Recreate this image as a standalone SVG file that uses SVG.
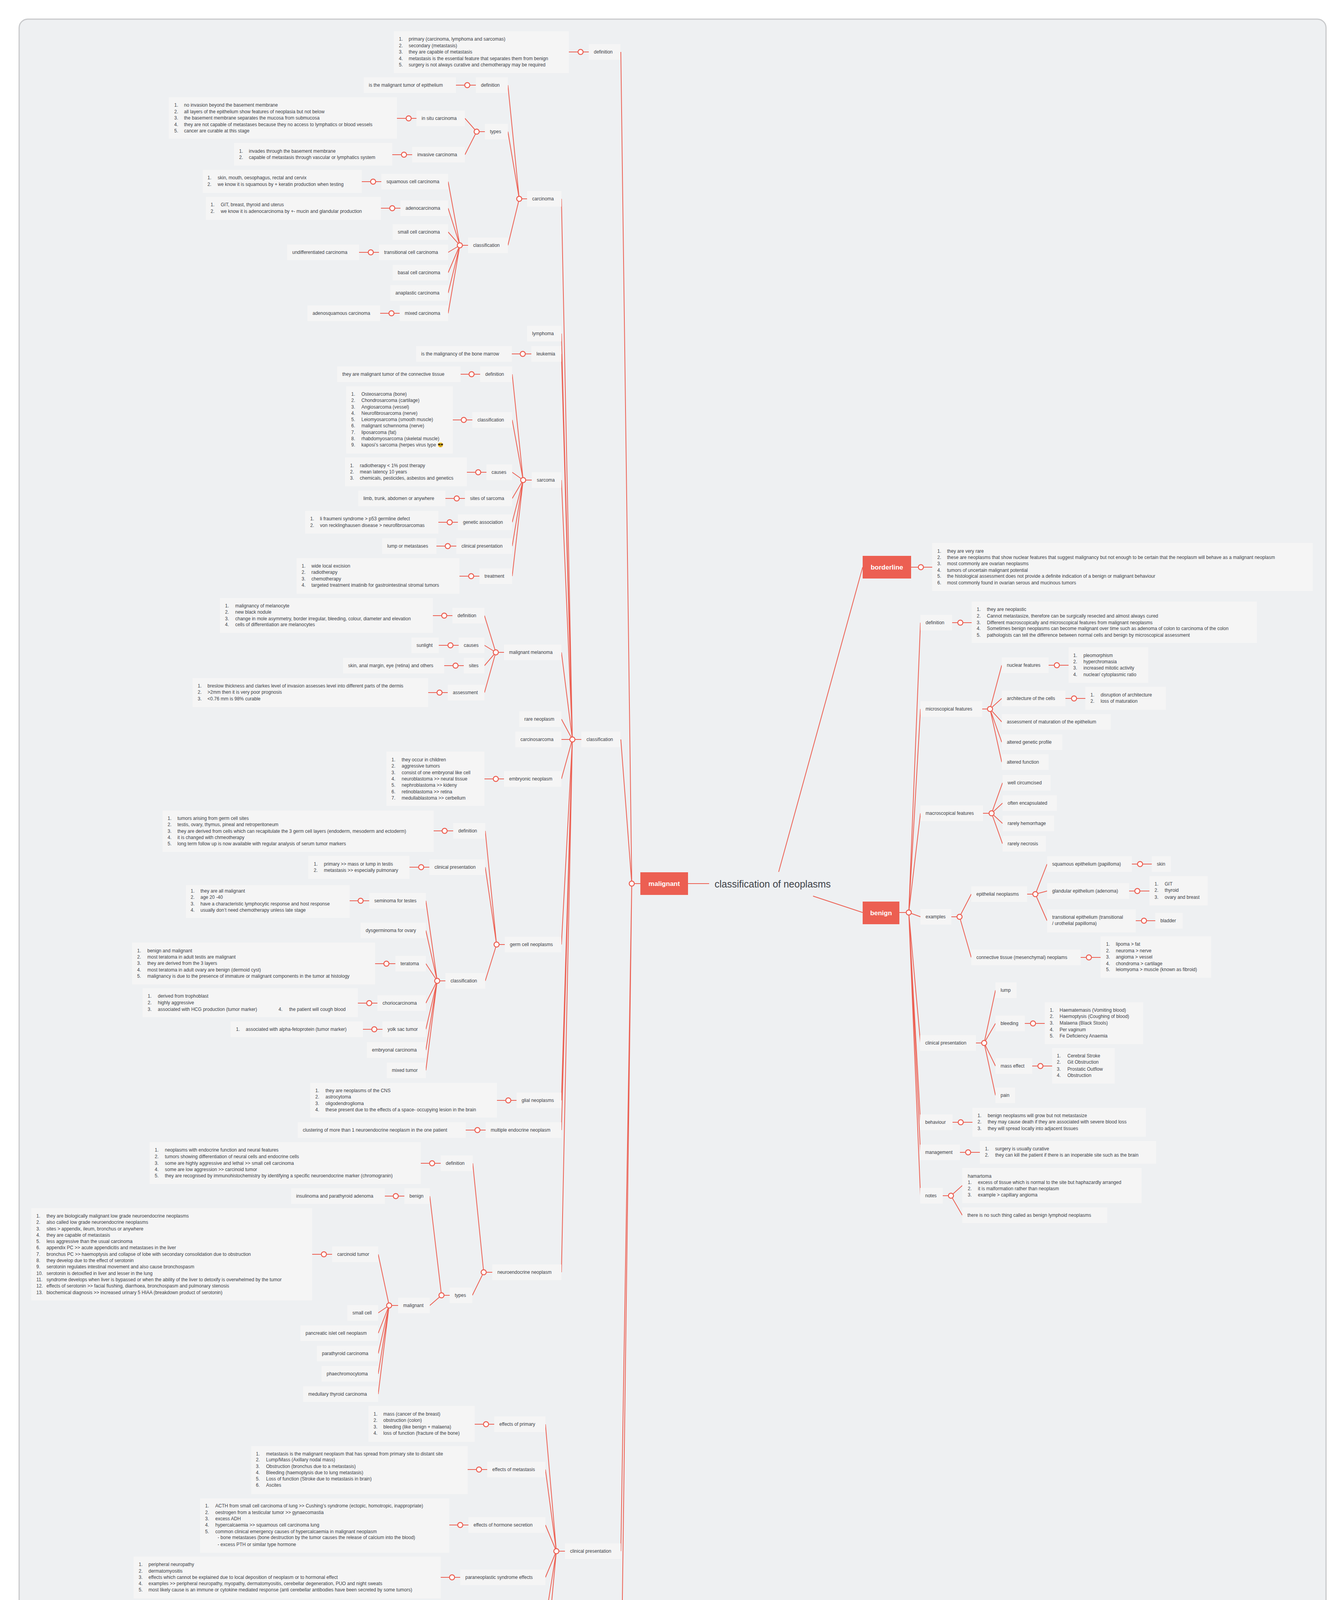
<svg xmlns="http://www.w3.org/2000/svg" width="3440" height="4524" viewBox="0 0 3440 4524">
<style>
.b{fill:#f5f5f5}
.t{font-family:"Liberation Sans",Arial,sans-serif;font-size:12px;fill:#3d4147}
.r{fill:#ec5f52}
.w{font-family:"Liberation Sans",Arial,sans-serif;font-size:17px;font-weight:bold;fill:#fff;text-anchor:middle}
.c{fill:#fff;stroke:#ec5f52;stroke-width:2.5}
#connectors{stroke:#ec5f52;stroke-width:2;fill:none}
</style>
<rect x="0" y="0" width="3440" height="4524" fill="#fff"/>
<rect x="49" y="49" width="3345" height="4429" rx="22" fill="#eef0f2" stroke="#c9cacc" stroke-width="3"/>
<g id="connectors">
<path d="M1761 2262H1815M1639 2262H1624M1617 2262L1589 133M1617 2262L1589 1893M1617 2262L1589 3971M1617 2262L1589 4398"/>
<path d="M1993 2232L2208 1452M2332 1452H2386M2081 2294L2208 2336M2302 2336H2326"/>
<path d="M2326 2336L2356 1594M2326 2336L2356 1815M2326 2336L2356 2082M2326 2336L2356 2347M2326 2336L2356 2670M2326 2336L2356 2873M2326 2336L2356 2950M2326 2336L2356 3061"/>
<path d="M1456 133H1507M1465 1893H1488"/>
<path d="M1465 1893L1437 509M1465 1893L1437 854M1465 1893L1437 906M1465 1893L1437 1229M1465 1893L1437 1670M1465 1893L1437 1841M1465 1893L1437 1893M1465 1893L1437 1994M1465 1893L1437 2418M1465 1893L1437 2817M1465 1893L1437 2893M1465 1893L1437 3257"/>
<path d="M1329 509H1349M1329 509L1300 218M1329 509L1300 337M1329 509L1300 628M1167 218H1218M1220 337H1241M1220 337L1190 303M1220 337L1190 396M1016 303H1066M1004 396H1055"/>
<path d="M1177 628H1198M1177 628L1147 465M1177 628L1147 533M1177 628L1147 594M1177 628L1147 646M1177 628L1147 698M1177 628L1147 750M1177 628L1147 802M926 465H976M975 533H1025M919 646H970M973 802H1023"/>
<path d="M1310 906H1360M1339 1229H1361M1339 1229L1311 958M1339 1229L1311 1075M1339 1229L1311 1209M1339 1229L1311 1276M1339 1229L1311 1337M1339 1229L1311 1398M1339 1229L1311 1475M1179 958H1229M1159 1075H1209M1195 1209H1245M1140 1276H1190M1122 1337H1172M1117 1398H1168M1176 1475H1227"/>
<path d="M1269 1670H1290M1269 1670L1240 1576M1269 1670L1240 1652M1269 1670L1240 1704M1269 1670L1240 1773M1108 1576H1158M1123 1652H1174M1137 1704H1187M1096 1773H1146M1240 1994H1290"/>
<path d="M1271 2418H1292M1271 2418L1242 2127M1271 2418L1242 2220M1271 2418L1242 2511M1110 2127H1160M1048 2220H1099M1119 2511H1140M1119 2511L1090 2306M1119 2511L1090 2382M1119 2511L1090 2467M1119 2511L1090 2568M1119 2511L1090 2635M1119 2511L1090 2688M1119 2511L1090 2740M895 2306H945M960 2467H1012M916 2568H966M929 2635H979"/>
<path d="M1272 2817H1322M1192 2893H1243M1238 3257H1260M1238 3257L1210 2978M1238 3257L1209 3316M1077 2978H1128M1130 3316H1151M1130 3316L1100 3062M1130 3316L1100 3342M985 3062H1035M996 3342H1019M996 3342L968 3211M996 3342L968 3361M996 3342L968 3413M996 3342L968 3465M996 3342L968 3517M996 3342L968 3569M799 3211H850"/>
<path d="M1424 3971H1446M1424 3971L1396 3646M1424 3971L1396 3762M1424 3971L1396 3904M1424 3971L1396 4038M1424 3971L1396 4147M1424 3971L1396 4272M1215 3646H1265M1197 3762H1247M1150 3904H1199M1128 4038H1178M1109 4147H1160M1185 4272H1236M1458 4398H1508"/>
<path d="M2437 1594H2487M2514 1815H2534M2534 1815L2564 1703M2534 1815L2564 1788M2534 1815L2564 1848M2534 1815L2564 1900M2534 1815L2564 1951M2684 1703H2735M2727 1788H2778"/>
<path d="M2516 2082H2538M2538 2082L2566 2004M2538 2082L2566 2056M2538 2082L2566 2108M2538 2082L2566 2160"/>
<path d="M2435 2347H2456M2456 2347L2486 2289M2456 2347L2486 2451M2629 2289H2650M2650 2289L2680 2212M2650 2289L2680 2281M2650 2289L2680 2357M2897 2212H2948M2890 2281H2942M2907 2357H2957M2766 2451H2817"/>
<path d="M2498 2670H2519M2519 2670L2548 2535M2519 2670L2548 2620M2519 2670L2548 2729M2519 2670L2548 2804M2623 2620H2674M2642 2729H2693M2438 2873H2489M2457 2950H2508M2413 3061H2434M2434 3061L2463 3035M2434 3061L2463 3111"/>
</g>
<g id="junctions">
<circle class="c" cx="1617" cy="2262" r="6.5"/><circle class="c" cx="2357" cy="1452" r="6.5"/><circle class="c" cx="2326" cy="2336" r="6.5"/>
<circle class="c" cx="1486" cy="133" r="6.5"/><circle class="c" cx="1465" cy="1893" r="6.5"/><circle class="c" cx="1329" cy="509" r="6.5"/>
<circle class="c" cx="1196" cy="218" r="6.5"/><circle class="c" cx="1220" cy="337" r="6.5"/><circle class="c" cx="1046" cy="303" r="6.5"/><circle class="c" cx="1034" cy="396" r="6.5"/>
<circle class="c" cx="1177" cy="628" r="6.5"/><circle class="c" cx="955" cy="465" r="6.5"/><circle class="c" cx="1004" cy="533" r="6.5"/><circle class="c" cx="949" cy="646" r="6.5"/><circle class="c" cx="1002" cy="802" r="6.5"/>
<circle class="c" cx="1338" cy="906" r="6.5"/><circle class="c" cx="1339" cy="1229" r="6.5"/><circle class="c" cx="1207" cy="958" r="6.5"/><circle class="c" cx="1187" cy="1075" r="6.5"/><circle class="c" cx="1224" cy="1209" r="6.5"/><circle class="c" cx="1169" cy="1276" r="6.5"/><circle class="c" cx="1151" cy="1337" r="6.5"/><circle class="c" cx="1146" cy="1398" r="6.5"/><circle class="c" cx="1206" cy="1475" r="6.5"/>
<circle class="c" cx="1269" cy="1670" r="6.5"/><circle class="c" cx="1137" cy="1576" r="6.5"/><circle class="c" cx="1153" cy="1652" r="6.5"/><circle class="c" cx="1166" cy="1704" r="6.5"/><circle class="c" cx="1125" cy="1773" r="6.5"/><circle class="c" cx="1269" cy="1994" r="6.5"/>
<circle class="c" cx="1271" cy="2418" r="6.5"/><circle class="c" cx="1138" cy="2127" r="6.5"/><circle class="c" cx="1078" cy="2220" r="6.5"/><circle class="c" cx="1119" cy="2511" r="6.5"/><circle class="c" cx="923" cy="2306" r="6.5"/><circle class="c" cx="989" cy="2467" r="6.5"/><circle class="c" cx="945" cy="2568" r="6.5"/><circle class="c" cx="958" cy="2635" r="6.5"/>
<circle class="c" cx="1301" cy="2817" r="6.5"/><circle class="c" cx="1222" cy="2893" r="6.5"/><circle class="c" cx="1238" cy="3257" r="6.5"/><circle class="c" cx="1106" cy="2978" r="6.5"/><circle class="c" cx="1130" cy="3316" r="6.5"/><circle class="c" cx="1013" cy="3062" r="6.5"/><circle class="c" cx="996" cy="3342" r="6.5"/><circle class="c" cx="829" cy="3211" r="6.5"/>
<circle class="c" cx="1424" cy="3971" r="6.5"/><circle class="c" cx="1244" cy="3646" r="6.5"/><circle class="c" cx="1226" cy="3762" r="6.5"/><circle class="c" cx="1178" cy="3904" r="6.5"/><circle class="c" cx="1157" cy="4038" r="6.5"/><circle class="c" cx="1138" cy="4147" r="6.5"/><circle class="c" cx="1215" cy="4272" r="6.5"/><circle class="c" cx="1487" cy="4398" r="6.5"/>
<circle class="c" cx="2458" cy="1594" r="6.5"/><circle class="c" cx="2534" cy="1815" r="6.5"/><circle class="c" cx="2705" cy="1703" r="6.5"/><circle class="c" cx="2749" cy="1788" r="6.5"/><circle class="c" cx="2538" cy="2082" r="6.5"/>
<circle class="c" cx="2456" cy="2347" r="6.5"/><circle class="c" cx="2650" cy="2289" r="6.5"/><circle class="c" cx="2918" cy="2212" r="6.5"/><circle class="c" cx="2911" cy="2281" r="6.5"/><circle class="c" cx="2928" cy="2357" r="6.5"/><circle class="c" cx="2787" cy="2451" r="6.5"/>
<circle class="c" cx="2519" cy="2670" r="6.5"/><circle class="c" cx="2644" cy="2620" r="6.5"/><circle class="c" cx="2663" cy="2729" r="6.5"/><circle class="c" cx="2459" cy="2873" r="6.5"/><circle class="c" cx="2478" cy="2950" r="6.5"/><circle class="c" cx="2434" cy="3061" r="6.5"/>
</g>

<g id="root"><text x="1829" y="2272" style="font-family:'Liberation Sans',Arial,sans-serif;font-size:25px;fill:#3d4147">classification of neoplasms</text></g>
<g id="malignant"><rect class="r" x="1639" y="2233" width="122" height="58"/><text class="w" x="1700" y="2268">malignant</text></g>
<g id="borderline"><rect class="r" x="2208" y="1423" width="124" height="58"/><text class="w" x="2270" y="1458">borderline</text></g>
<g id="benign"><rect class="r" x="2208" y="2308" width="94" height="58"/><text class="w" x="2255" y="2343">benign</text></g>

<!-- malignant definition -->
<g id="m-def"><rect class="b" x="1507" y="113" width="81" height="40"/><text class="t" x="1520" y="137">definition</text></g>
<g id="m-def-l"><rect class="b" x="1008" y="80" width="448" height="107"/><text class="t"><tspan x="1021" y="104">1.</tspan><tspan x="1046">primary (carcinoma, lymphoma and sarcomas)</tspan><tspan x="1021" y="121">2.</tspan><tspan x="1046">secondary (metastasis)</tspan><tspan x="1021" y="137">3.</tspan><tspan x="1046">they are capable of metastasis</tspan><tspan x="1021" y="154">4.</tspan><tspan x="1046">metastasis is the essential feature that separates them from benign</tspan><tspan x="1021" y="170">5.</tspan><tspan x="1046">surgery is not always curative and chemotherapy may be required</tspan></text></g>
<g id="m-class"><rect class="b" x="1488" y="1873" width="100" height="40"/><text class="t" x="1501" y="1897">classification</text></g>
<g id="m-clin"><rect class="b" x="1446" y="3951" width="143" height="40"/><text class="t" x="1459" y="3975">clinical presentation</text></g>
<g id="m-diag"><rect class="b" x="1508" y="4378" width="81" height="40"/><text class="t" x="1521" y="4402">diagnosis</text></g>

<!-- carcinoma -->
<g id="carc"><rect class="b" x="1349" y="489" width="88" height="40"/><text class="t" x="1362" y="513">carcinoma</text></g>
<g id="carc-def"><rect class="b" x="1218" y="198" width="82" height="40"/><text class="t" x="1231" y="222">definition</text></g>
<g id="carc-def-l"><rect class="b" x="931" y="198" width="236" height="40"/><text class="t" x="944" y="222">is the malignant tumor of epithelium</text></g>
<g id="carc-types"><rect class="b" x="1241" y="317" width="59" height="40"/><text class="t" x="1254" y="341">types</text></g>
<g id="insitu"><rect class="b" x="1066" y="283" width="124" height="40"/><text class="t" x="1079" y="307">in situ carcinoma</text></g>
<g id="insitu-l"><rect class="b" x="432" y="249" width="584" height="106"/><text class="t"><tspan x="446" y="273">1.</tspan><tspan x="471">no invasion beyond the basement membrane</tspan><tspan x="446" y="290">2.</tspan><tspan x="471">all layers of the epithelium show features of neoplasia but not below</tspan><tspan x="446" y="306">3.</tspan><tspan x="471">the basement membrane separates the mucosa from submucosa</tspan><tspan x="446" y="323">4.</tspan><tspan x="471">they are not capable of metastases because they no access to lymphatics or blood vessels</tspan><tspan x="446" y="339">5.</tspan><tspan x="471">cancer are curable at this stage</tspan></text></g>
<g id="invasive"><rect class="b" x="1055" y="376" width="135" height="40"/><text class="t" x="1068" y="400">invasive carcinoma</text></g>
<g id="invasive-l"><rect class="b" x="599" y="366" width="405" height="58"/><text class="t"><tspan x="612" y="391">1.</tspan><tspan x="637">invades through the basement membrane</tspan><tspan x="612" y="407">2.</tspan><tspan x="637">capable of metastasis through vascular or lymphatics system</tspan></text></g>
<g id="carc-class"><rect class="b" x="1198" y="608" width="102" height="40"/><text class="t" x="1211" y="632">classification</text></g>
<g id="scc"><rect class="b" x="976" y="445" width="171" height="40"/><text class="t" x="989" y="469">squamous cell carcinoma</text></g>
<g id="scc-l"><rect class="b" x="519" y="435" width="407" height="59"/><text class="t"><tspan x="531" y="459">1.</tspan><tspan x="557">skin, mouth, oesophagus, rectal and cervix</tspan><tspan x="531" y="476">2.</tspan><tspan x="557">we know it is squamous by + keratin production when testing</tspan></text></g>
<g id="adeno"><rect class="b" x="1025" y="513" width="122" height="40"/><text class="t" x="1038" y="537">adenocarcinoma</text></g>
<g id="adeno-l"><rect class="b" x="527" y="504" width="448" height="59"/><text class="t"><tspan x="539" y="528">1.</tspan><tspan x="565">GIT, breast, thyroid and uterus</tspan><tspan x="539" y="545">2.</tspan><tspan x="565">we know it is adenocarcinoma by +- mucin and glandular production</tspan></text></g>
<g id="smallc"><rect class="b" x="1005" y="574" width="142" height="40"/><text class="t" x="1018" y="598">small cell carcinoma</text></g>
<g id="trans"><rect class="b" x="970" y="626" width="177" height="40"/><text class="t" x="983" y="650">transitional cell carcinoma</text></g>
<g id="undiff"><rect class="b" x="735" y="626" width="184" height="40"/><text class="t" x="748" y="650">undifferentiated carcinoma</text></g>
<g id="basal"><rect class="b" x="1005" y="678" width="142" height="40"/><text class="t" x="1018" y="702">basal cell carcinoma</text></g>
<g id="anapl"><rect class="b" x="999" y="730" width="148" height="40"/><text class="t" x="1012" y="754">anaplastic carcinoma</text></g>
<g id="mixedc"><rect class="b" x="1023" y="782" width="124" height="40"/><text class="t" x="1036" y="806">mixed carcinoma</text></g>
<g id="adenosq"><rect class="b" x="787" y="782" width="186" height="40"/><text class="t" x="800" y="806">adenosquamous carcinoma</text></g>

<g id="lymphoma"><rect class="b" x="1349" y="834" width="88" height="40"/><text class="t" x="1362" y="858">lymphoma</text></g>
<g id="leuk"><rect class="b" x="1360" y="886" width="77" height="40"/><text class="t" x="1373" y="910">leukemia</text></g>
<g id="leuk-l"><rect class="b" x="1065" y="886" width="245" height="40"/><text class="t" x="1078" y="910">is the malignancy of the bone marrow</text></g>

<!-- sarcoma -->
<g id="sarc"><rect class="b" x="1361" y="1209" width="76" height="40"/><text class="t" x="1374" y="1233">sarcoma</text></g>
<g id="sarc-def"><rect class="b" x="1229" y="938" width="82" height="40"/><text class="t" x="1242" y="962">definition</text></g>
<g id="sarc-def-l"><rect class="b" x="863" y="938" width="316" height="40"/><text class="t" x="876" y="962">they are malignant tumor of the connective tissue</text></g>
<g id="sarc-class"><rect class="b" x="1209" y="1055" width="102" height="40"/><text class="t" x="1222" y="1079">classification</text></g>
<g id="sarc-class-l"><rect class="b" x="886" y="989" width="273" height="172"/><text class="t"><tspan x="899" y="1013">1.</tspan><tspan x="925">Osteosarcoma (bone)</tspan><tspan x="899" y="1029">2.</tspan><tspan x="925">Chondrosarcoma (cartilage)</tspan><tspan x="899" y="1046">3.</tspan><tspan x="925">Angiosarcoma (vessel)</tspan><tspan x="899" y="1062">4.</tspan><tspan x="925">Neurofibrosarcoma (nerve)</tspan><tspan x="899" y="1078">5.</tspan><tspan x="925">Leiomyosarcoma (smooth muscle)</tspan><tspan x="899" y="1094">6.</tspan><tspan x="925">malignant schwnnoma (nerve)</tspan><tspan x="899" y="1111">7.</tspan><tspan x="925">liposarcoma (fat)</tspan><tspan x="899" y="1127">8.</tspan><tspan x="925">rhabdomyosarcoma (skeletal muscle)</tspan><tspan x="899" y="1143">9.</tspan><tspan x="925">kaposi’s sarcoma (herpes virus type 😎</tspan></text></g>
<g id="sarc-causes"><rect class="b" x="1245" y="1189" width="66" height="40"/><text class="t" x="1258" y="1213">causes</text></g>
<g id="sarc-causes-l"><rect class="b" x="883" y="1171" width="312" height="74"/><text class="t"><tspan x="896" y="1196">1.</tspan><tspan x="921">radiotherapy &lt; 1% post therapy</tspan><tspan x="896" y="1212">2.</tspan><tspan x="921">mean latency 10 years</tspan><tspan x="896" y="1228">3.</tspan><tspan x="921">chemicals, pesticides, asbestos and genetics</tspan></text></g>
<g id="sarc-sites"><rect class="b" x="1190" y="1256" width="121" height="40"/><text class="t" x="1203" y="1280">sites of sarcoma</text></g>
<g id="sarc-sites-l"><rect class="b" x="917" y="1256" width="223" height="40"/><text class="t" x="930" y="1280">limb, trunk, abdomen or anywhere</text></g>
<g id="sarc-gen"><rect class="b" x="1172" y="1317" width="139" height="40"/><text class="t" x="1185" y="1341">genetic association</text></g>
<g id="sarc-gen-l"><rect class="b" x="781" y="1308" width="341" height="58"/><text class="t"><tspan x="794" y="1332">1.</tspan><tspan x="819">li fraumeni syndrome &gt; p53 germline defect</tspan><tspan x="794" y="1349">2.</tspan><tspan x="819">von recklinghausen disease &gt; neurofibrosarcomas</tspan></text></g>
<g id="sarc-clin"><rect class="b" x="1168" y="1378" width="143" height="40"/><text class="t" x="1181" y="1402">clinical presentation</text></g>
<g id="sarc-clin-l"><rect class="b" x="978" y="1378" width="139" height="40"/><text class="t" x="991" y="1402">lump or metastases</text></g>
<g id="sarc-treat"><rect class="b" x="1227" y="1455" width="84" height="40"/><text class="t" x="1240" y="1479">treatment</text></g>
<g id="sarc-treat-l"><rect class="b" x="759" y="1429" width="417" height="91"/><text class="t"><tspan x="772" y="1453">1.</tspan><tspan x="797">wide local excision</tspan><tspan x="772" y="1469">2.</tspan><tspan x="797">radiotherapy</tspan><tspan x="772" y="1486">3.</tspan><tspan x="797">chemotherapy</tspan><tspan x="772" y="1502">4.</tspan><tspan x="797">targeted treatment imatinib for gastrointestinal stromal tumors</tspan></text></g>

<!-- melanoma -->
<g id="mel"><rect class="b" x="1290" y="1650" width="147" height="40"/><text class="t" x="1303" y="1674">malignant melanoma</text></g>
<g id="mel-def"><rect class="b" x="1158" y="1556" width="82" height="40"/><text class="t" x="1171" y="1580">definition</text></g>
<g id="mel-def-l"><rect class="b" x="563" y="1531" width="545" height="89"/><text class="t"><tspan x="576" y="1555">1.</tspan><tspan x="602">malignancy of melanocyte</tspan><tspan x="576" y="1571">2.</tspan><tspan x="602">new black nodule</tspan><tspan x="576" y="1588">3.</tspan><tspan x="602">change in mole asymmetry, border irregular, bleeding, colour, diameter and elevation</tspan><tspan x="576" y="1603">4.</tspan><tspan x="602">cells of differentiation are melanocytes</tspan></text></g>
<g id="mel-causes"><rect class="b" x="1174" y="1632" width="66" height="40"/><text class="t" x="1187" y="1656">causes</text></g>
<g id="mel-causes-l"><rect class="b" x="1053" y="1632" width="70" height="40"/><text class="t" x="1066" y="1656">sunlight</text></g>
<g id="mel-sites"><rect class="b" x="1187" y="1684" width="53" height="40"/><text class="t" x="1200" y="1708">sites</text></g>
<g id="mel-sites-l"><rect class="b" x="878" y="1684" width="259" height="40"/><text class="t" x="891" y="1708">skin, anal margin, eye (retina) and others</text></g>
<g id="mel-assess"><rect class="b" x="1146" y="1753" width="94" height="40"/><text class="t" x="1159" y="1777">assessment</text></g>
<g id="mel-assess-l"><rect class="b" x="493" y="1736" width="603" height="74"/><text class="t"><tspan x="506" y="1760">1.</tspan><tspan x="531">breslow thickness and clarkes level of invasion assesses level into different parts of the dermis</tspan><tspan x="506" y="1776">2.</tspan><tspan x="531">&gt;2mm then it is very poor prognosis</tspan><tspan x="506" y="1793">3.</tspan><tspan x="531">&lt;0.76 mm is 98% curable</tspan></text></g>
<g id="rare"><rect class="b" x="1329" y="1821" width="108" height="40"/><text class="t" x="1342" y="1845">rare neoplasm</text></g>
<g id="carcsarc"><rect class="b" x="1319" y="1873" width="118" height="40"/><text class="t" x="1332" y="1897">carcinosarcoma</text></g>
<g id="embryo"><rect class="b" x="1290" y="1974" width="147" height="40"/><text class="t" x="1303" y="1998">embryonic neoplasm</text></g>
<g id="embryo-l"><rect class="b" x="989" y="1924" width="251" height="139"/><text class="t"><tspan x="1002" y="1949">1.</tspan><tspan x="1028">they occur in children</tspan><tspan x="1002" y="1965">2.</tspan><tspan x="1028">aggressive tumors</tspan><tspan x="1002" y="1982">3.</tspan><tspan x="1028">consist of one embryonal like cell</tspan><tspan x="1002" y="1998">4.</tspan><tspan x="1028">neuroblastoma &gt;&gt; neural tissue</tspan><tspan x="1002" y="2014">5.</tspan><tspan x="1028">nephroblastoma &gt;&gt; kideny</tspan><tspan x="1002" y="2031">6.</tspan><tspan x="1028">retinoblastoma &gt;&gt; retina</tspan><tspan x="1002" y="2047">7.</tspan><tspan x="1028">medullablastoma &gt;&gt; cerbellum</tspan></text></g>

<!-- germ cell -->
<g id="germ"><rect class="b" x="1292" y="2398" width="145" height="40"/><text class="t" x="1305" y="2422">germ cell neoplasms</text></g>
<g id="germ-def"><rect class="b" x="1160" y="2107" width="82" height="40"/><text class="t" x="1173" y="2131">definition</text></g>
<g id="germ-def-l"><rect class="b" x="416" y="2075" width="694" height="106"/><text class="t"><tspan x="429" y="2099">1.</tspan><tspan x="454">tumors arising from germ cell sites</tspan><tspan x="429" y="2115">2.</tspan><tspan x="454">testis, ovary, thymus, pineal and retroperitoneum</tspan><tspan x="429" y="2132">3.</tspan><tspan x="454">they are derived from cells which can recapitulate the 3 germ cell layers (endoderm, mesoderm and ectoderm)</tspan><tspan x="429" y="2148">4.</tspan><tspan x="454">it is changed with chmeotherapy</tspan><tspan x="429" y="2164">5.</tspan><tspan x="454">long term follow up is now available with regular analysis of serum tumor markers</tspan></text></g>
<g id="germ-clin"><rect class="b" x="1099" y="2200" width="143" height="40"/><text class="t" x="1112" y="2224">clinical presentation</text></g>
<g id="germ-clin-l"><rect class="b" x="789" y="2191" width="259" height="59"/><text class="t"><tspan x="803" y="2216">1.</tspan><tspan x="829">primary &gt;&gt; mass or lump in testis</tspan><tspan x="803" y="2232">2.</tspan><tspan x="829">metastasis &gt;&gt; especially pulmonary</tspan></text></g>
<g id="germ-class"><rect class="b" x="1140" y="2491" width="102" height="40"/><text class="t" x="1153" y="2515">classification</text></g>
<g id="semi"><rect class="b" x="945" y="2286" width="145" height="40"/><text class="t" x="958" y="2310">seminoma for testes</text></g>
<g id="semi-l"><rect class="b" x="476" y="2266" width="419" height="84"/><text class="t"><tspan x="488" y="2285">1.</tspan><tspan x="513">they are all malignant</tspan><tspan x="488" y="2301">2.</tspan><tspan x="513">age 20 -40</tspan><tspan x="488" y="2318">3.</tspan><tspan x="513">have a characteristic lymphocytic response and host response</tspan><tspan x="488" y="2334">4.</tspan><tspan x="513">usually don’t need chemotherapy unless late stage</tspan></text></g>
<g id="dysg"><rect class="b" x="923" y="2362" width="167" height="40"/><text class="t" x="936" y="2386">dysgerminoma for ovary</text></g>
<g id="terat"><rect class="b" x="1012" y="2447" width="78" height="40"/><text class="t" x="1025" y="2471">teratoma</text></g>
<g id="terat-l"><rect class="b" x="338" y="2413" width="622" height="107"/><text class="t"><tspan x="351" y="2438">1.</tspan><tspan x="377">benign and malignant</tspan><tspan x="351" y="2454">2.</tspan><tspan x="377">most teratoma in adult testis are malignant</tspan><tspan x="351" y="2470">3.</tspan><tspan x="377">they are derived from the 3 layers</tspan><tspan x="351" y="2487">4.</tspan><tspan x="377">most teratoma in adult ovary are benign (dermoid cyst)</tspan><tspan x="351" y="2503">5.</tspan><tspan x="377">malignancy is due to the presence of immature or malignant components in the tumor at histology</tspan></text></g>
<g id="chorio"><rect class="b" x="966" y="2548" width="124" height="40"/><text class="t" x="979" y="2572">choriocarcinoma</text></g>
<g id="chorio-l"><rect class="b" x="365" y="2530" width="551" height="74"/><text class="t"><tspan x="378" y="2554">1.</tspan><tspan x="404">derived from trophoblast</tspan><tspan x="378" y="2571">2.</tspan><tspan x="404">highly aggressive</tspan><tspan x="378" y="2588">3.</tspan><tspan x="404">associated with HCG production (tumor marker)</tspan><tspan x="713">4.</tspan><tspan x="740">the patient will cough blood</tspan></text></g>
<g id="yolk"><rect class="b" x="979" y="2615" width="111" height="40"/><text class="t" x="992" y="2639">yolk sac tumor</text></g>
<g id="yolk-l"><rect class="b" x="590" y="2615" width="339" height="40"/><text class="t"><tspan x="604" y="2639">1.</tspan><tspan x="629">associated with alpha-fetoprotein (tumor marker)</tspan></text></g>
<g id="embc"><rect class="b" x="939" y="2668" width="151" height="40"/><text class="t" x="952" y="2692">embryonal carcinoma</text></g>
<g id="mixt"><rect class="b" x="990" y="2720" width="100" height="40"/><text class="t" x="1003" y="2744">mixed tumor</text></g>

<g id="glial"><rect class="b" x="1322" y="2797" width="115" height="40"/><text class="t" x="1335" y="2821">glial neoplasms</text></g>
<g id="glial-l"><rect class="b" x="794" y="2772" width="478" height="89"/><text class="t"><tspan x="807" y="2796">1.</tspan><tspan x="833">they are neoplasms of the CNS</tspan><tspan x="807" y="2812">2.</tspan><tspan x="833">astrocytoma</tspan><tspan x="807" y="2829">3.</tspan><tspan x="833">oligodendroglioma</tspan><tspan x="807" y="2845">4.</tspan><tspan x="833">these present due to the effects of a space- occupying lesion in the brain</tspan></text></g>
<g id="men"><rect class="b" x="1243" y="2873" width="194" height="40"/><text class="t" x="1256" y="2897">multiple endocrine neoplasm</text></g>
<g id="men-l"><rect class="b" x="762" y="2873" width="430" height="40"/><text class="t" x="775" y="2897">clustering of more than 1 neuroendocrine neoplasm in the one patient</text></g>

<!-- neuroendocrine -->
<g id="ne"><rect class="b" x="1260" y="3237" width="177" height="40"/><text class="t" x="1273" y="3261">neuroendocrine neoplasm</text></g>
<g id="ne-def"><rect class="b" x="1128" y="2958" width="82" height="40"/><text class="t" x="1141" y="2982">definition</text></g>
<g id="ne-def-l"><rect class="b" x="383" y="2924" width="694" height="107"/><text class="t"><tspan x="396" y="2948">1.</tspan><tspan x="422">neoplasms with endocrine function and neural features</tspan><tspan x="396" y="2965">2.</tspan><tspan x="422">tumors showing differentiation of neural cells and endocrine cells</tspan><tspan x="396" y="2982">3.</tspan><tspan x="422">some are highly aggressive and lethal &gt;&gt; small cell carcinoma</tspan><tspan x="396" y="2998">4.</tspan><tspan x="422">some are low aggression &gt;&gt; carcinoid tumor</tspan><tspan x="396" y="3014">5.</tspan><tspan x="422">they are recognised by immunohistochemistry by identifying a specific neuroendocrine marker (chromogranin)</tspan></text></g>
<g id="ne-types"><rect class="b" x="1151" y="3296" width="58" height="40"/><text class="t" x="1164" y="3320">types</text></g>
<g id="ne-ben"><rect class="b" x="1035" y="3042" width="65" height="40"/><text class="t" x="1048" y="3066">benign</text></g>
<g id="ne-ben-l"><rect class="b" x="745" y="3042" width="240" height="40"/><text class="t" x="758" y="3066">insulinoma and parathyroid adenoma</text></g>
<g id="ne-mal"><rect class="b" x="1019" y="3322" width="81" height="40"/><text class="t" x="1032" y="3346">malignant</text></g>
<g id="carcinoid"><rect class="b" x="850" y="3191" width="118" height="40"/><text class="t" x="863" y="3215">carcinoid tumor</text></g>
<g id="carcinoid-l"><rect class="b" x="80" y="3093" width="719" height="236"/><text class="t"><tspan x="93" y="3117">1.</tspan><tspan x="119">they are biologically malignant low grade neuroendocrine neoplasms</tspan><tspan x="93" y="3133">2.</tspan><tspan x="119">also called low grade neuroendocrine neoplasms</tspan><tspan x="93" y="3150">3.</tspan><tspan x="119">sites &gt;  appendix, ileum, bronchus or anywhere</tspan><tspan x="93" y="3166">4.</tspan><tspan x="119">they are capable of metastasis</tspan><tspan x="93" y="3182">5.</tspan><tspan x="119">less aggressive than the usual carcinoma</tspan><tspan x="93" y="3198">6.</tspan><tspan x="119">appendix PC &gt;&gt;  acute appendicitis and metastases in the liver</tspan><tspan x="93" y="3215">7.</tspan><tspan x="119">bronchus PC &gt;&gt; haemoptysis and collapse of lobe with secondary consolidation due to obstruction</tspan><tspan x="93" y="3231">8.</tspan><tspan x="119">they develop due to the effect of serotonin</tspan><tspan x="93" y="3247">9.</tspan><tspan x="119">serotonin regulates intestinal movement and also cause bronchospasm</tspan><tspan x="93" y="3264">10.</tspan><tspan x="119">serotonin is detoxified in liver and lesser in the lung</tspan><tspan x="93" y="3280">11.</tspan><tspan x="119">syndrome develops when liver is bypassed or when the ability of the liver to detoxify is overwhelmed by the tumor</tspan><tspan x="93" y="3296">12.</tspan><tspan x="119">effects of serotonin &gt;&gt; facial flushing, diarrhoea, bronchospasm and pulmonary stenosis</tspan><tspan x="93" y="3313">13.</tspan><tspan x="119">biochemical diagnosis &gt;&gt; increased urinary 5 HIAA (breakdown product of serotonin)</tspan></text></g>
<g id="ne-small"><rect class="b" x="889" y="3341" width="79" height="40"/><text class="t" x="902" y="3365">small cell</text></g>
<g id="ne-panc"><rect class="b" x="769" y="3393" width="199" height="40"/><text class="t" x="782" y="3417">pancreatic islet cell neoplasm</text></g>
<g id="ne-para"><rect class="b" x="811" y="3445" width="157" height="40"/><text class="t" x="824" y="3469">parathyroid carcinoma</text></g>
<g id="ne-phaeo"><rect class="b" x="823" y="3497" width="145" height="40"/><text class="t" x="836" y="3521">phaechromocytoma</text></g>
<g id="ne-medul"><rect class="b" x="776" y="3549" width="192" height="40"/><text class="t" x="789" y="3573">medullary thyroid carcinoma</text></g>

<!-- clinical presentation -->
<g id="cp-prim"><rect class="b" x="1265" y="3626" width="131" height="40"/><text class="t" x="1278" y="3650">effects of primary</text></g>
<g id="cp-prim-l"><rect class="b" x="943" y="3599" width="272" height="92"/><text class="t"><tspan x="956" y="3624">1.</tspan><tspan x="981">mass (cancer of the breast)</tspan><tspan x="956" y="3640">2.</tspan><tspan x="981">obstruction (colon)</tspan><tspan x="956" y="3657">3.</tspan><tspan x="981">bleeding (like benign + malaena)</tspan><tspan x="956" y="3673">4.</tspan><tspan x="981">loss of function (fracture of the bone)</tspan></text></g>
<g id="cp-met"><rect class="b" x="1247" y="3742" width="149" height="40"/><text class="t" x="1260" y="3766">effects of metastasis</text></g>
<g id="cp-met-l"><rect class="b" x="643" y="3702" width="554" height="123"/><text class="t"><tspan x="655" y="3726">1.</tspan><tspan x="681">metastasis is the malignant neoplasm that has spread from primary site to distant site</tspan><tspan x="655" y="3741">2.</tspan><tspan x="681">Lump/Mass (Axillary nodal mass)</tspan><tspan x="655" y="3758">3.</tspan><tspan x="681">Obstruction (bronchus due to a metastasis)</tspan><tspan x="655" y="3774">4.</tspan><tspan x="681">Bleeding (haemoptysis due to lung metastasis)</tspan><tspan x="655" y="3790">5.</tspan><tspan x="681">Loss of function (Stroke due to metastasis in brain)</tspan><tspan x="655" y="3806">6.</tspan><tspan x="681">Ascites</tspan></text></g>
<g id="cp-horm"><rect class="b" x="1199" y="3884" width="197" height="40"/><text class="t" x="1212" y="3908">effects of hormone secretion</text></g>
<g id="cp-horm-l"><rect class="b" x="512" y="3836" width="638" height="139"/><text class="t"><tspan x="525" y="3859">1.</tspan><tspan x="551">ACTH from small cell carcinoma of lung &gt;&gt; Cushing’s syndrome (ectopic, homotropic, inappropriate)</tspan><tspan x="525" y="3876">2.</tspan><tspan x="551">oestrogen from a testicular tumor &gt;&gt; gynaecomastia</tspan><tspan x="525" y="3892">3.</tspan><tspan x="551">excess ADH</tspan><tspan x="525" y="3908">4.</tspan><tspan x="551">hypercalcaemia &gt;&gt; squamous cell carcinoma lung</tspan><tspan x="525" y="3925">5.</tspan><tspan x="551">common clinical emergency causes of hypercalcaemia in malignant neoplasm</tspan><tspan x="557" y="3940">- bone metastases (bone destruction by the tumor causes the release of calcium into the blood)</tspan><tspan x="557" y="3958">- excess PTH or similar type hormone</tspan></text></g>
<g id="cp-para"><rect class="b" x="1178" y="4018" width="218" height="40"/><text class="t" x="1191" y="4042">paraneoplastic syndrome effects</text></g>
<g id="cp-para-l"><rect class="b" x="342" y="3985" width="786" height="107"/><text class="t"><tspan x="355" y="4009">1.</tspan><tspan x="380">peripheral neuropathy</tspan><tspan x="355" y="4026">2.</tspan><tspan x="380">dermatomyositis</tspan><tspan x="355" y="4042">3.</tspan><tspan x="380">effects which cannot be explained due to local deposition of neoplasm or to hormonal effect</tspan><tspan x="355" y="4058">4.</tspan><tspan x="380">examples &gt;&gt; peripheral neuropathy, myopathy, dermatomyositis, cerebellar degeneration, PUO and night sweats</tspan><tspan x="355" y="4074">5.</tspan><tspan x="380">most likely cause is an immune or cytokine mediated response (anti cerebellar antibodies have been secreted by some tumors)</tspan></text></g>
<g id="cp-gen"><rect class="b" x="1160" y="4127" width="236" height="40"/><text class="t" x="1173" y="4151">general effects of malignant disease</text></g>
<g id="cp-gen-l"><rect class="b" x="912" y="4102" width="197" height="90"/><text class="t"><tspan x="924" y="4126">1.</tspan><tspan x="950">weight loss</tspan><tspan x="924" y="4142">2.</tspan><tspan x="950">fatigue</tspan><tspan x="924" y="4159">3.</tspan><tspan x="950">anorexia</tspan><tspan x="924" y="4176">4.</tspan><tspan x="950">lassitude (lack of energy)</tspan></text></g>
<g id="cp-haem"><rect class="b" x="1236" y="4252" width="160" height="40"/><text class="t" x="1249" y="4276">haematological effects</text></g>
<g id="cp-haem-l"><rect class="b" x="435" y="4203" width="750" height="139"/><text class="t"><tspan x="448" y="4227">1.</tspan><tspan x="474">iron deficiency anaemia (commonest) &gt;&gt; blood loss</tspan><tspan x="448" y="4244">2.</tspan><tspan x="474">megaloblastic anaemia &gt;&gt; cytotoxic drugs interfering with DNA synthesis</tspan><tspan x="448" y="4260">3.</tspan><tspan x="474">hypoplastic anaemia &gt;&gt; marrow infiltration by tumor, chemotherapy destruction and radiotherapy destruction</tspan><tspan x="448" y="4276">4.</tspan><tspan x="474">haemolytic anaemia &gt;&gt; immune mediated destruction of RBC</tspan><tspan x="448" y="4293">5.</tspan><tspan x="474">increased clotting (DVT) &gt;&gt; tumor activated clotting factors, platelets and endothelial cells or tumor inhibits fibrinolysis</tspan><tspan x="448" y="4308">6.</tspan><tspan x="474">polycythaemia (increased haemoglobin) due to an increase in the number of RBC</tspan><tspan x="448" y="4325">7.</tspan><tspan x="474">erythropoietin production &gt;&gt; renal cell carcinoma</tspan></text></g>
<g id="diag-l"><rect class="b" x="1151" y="4353" width="307" height="87"/><text class="t"><tspan x="1163" y="4377">1.</tspan><tspan x="1189">history</tspan><tspan x="1163" y="4393">2.</tspan><tspan x="1189">clinical examination</tspan><tspan x="1163" y="4410">3.</tspan><tspan x="1189">radiology  CT, MRI, PET</tspan><tspan x="1163" y="4427">4.</tspan><tspan x="1189">pathology  FNA, Bx, aspirate and resection</tspan></text></g>

<!-- borderline -->
<g id="bl-l"><rect class="b" x="2386" y="1390" width="974" height="123"/><text class="t"><tspan x="2399" y="1415">1.</tspan><tspan x="2424">they are very rare</tspan><tspan x="2399" y="1431">2.</tspan><tspan x="2424">these are neoplasms that show nuclear features that suggest malignancy but not enough to be certain that the neoplasm will behave as a malignant neoplasm</tspan><tspan x="2399" y="1447">3.</tspan><tspan x="2424">most commonly are ovarian neoplasms</tspan><tspan x="2399" y="1464">4.</tspan><tspan x="2424">tumors of uncertain malignant potential</tspan><tspan x="2399" y="1479">5.</tspan><tspan x="2424">the histological assessment does not provide a definite indication of a benign or malignant behaviour</tspan><tspan x="2399" y="1496">6.</tspan><tspan x="2424">most commonly found in ovarian serous and mucinous tumors</tspan></text></g>

<!-- benign -->
<g id="b-def"><rect class="b" x="2356" y="1574" width="81" height="40"/><text class="t" x="2369" y="1598">definition</text></g>
<g id="b-def-l"><rect class="b" x="2487" y="1540" width="730" height="106"/><text class="t"><tspan x="2500" y="1564">1.</tspan><tspan x="2526">they are neoplastic</tspan><tspan x="2500" y="1581">2.</tspan><tspan x="2526">Cannot metastasize, therefore can be surgically resected and almost always cured</tspan><tspan x="2500" y="1598">3.</tspan><tspan x="2526">Different macroscopically and microscopical features from malignant neoplasms</tspan><tspan x="2500" y="1613">4.</tspan><tspan x="2526">Sometimes benign neoplasms can become malignant over time such as adenoma of colon to carcinoma of the colon</tspan><tspan x="2500" y="1630">5.</tspan><tspan x="2526">pathologists can tell the difference between normal cells and benign by microscopical assessment</tspan></text></g>
<g id="b-micro"><rect class="b" x="2356" y="1795" width="158" height="40"/><text class="t" x="2369" y="1819">microscopical features</text></g>
<g id="b-nuc"><rect class="b" x="2564" y="1683" width="120" height="40"/><text class="t" x="2577" y="1707">nuclear features</text></g>
<g id="b-nuc-l"><rect class="b" x="2735" y="1657" width="204" height="91"/><text class="t"><tspan x="2747" y="1682">1.</tspan><tspan x="2773">pleomorphism</tspan><tspan x="2747" y="1698">2.</tspan><tspan x="2773">hyperchromasia</tspan><tspan x="2747" y="1714">3.</tspan><tspan x="2773">increased mitotic activity</tspan><tspan x="2747" y="1731">4.</tspan><tspan x="2773">nuclear/ cytoplasmic ratio</tspan></text></g>
<g id="b-arch"><rect class="b" x="2564" y="1768" width="163" height="40"/><text class="t" x="2577" y="1792">architecture of the cells</text></g>
<g id="b-arch-l"><rect class="b" x="2778" y="1758" width="206" height="59"/><text class="t"><tspan x="2791" y="1783">1.</tspan><tspan x="2817">disruption of architecture</tspan><tspan x="2791" y="1799">2.</tspan><tspan x="2817">loss of maturation</tspan></text></g>
<g id="b-assess"><rect class="b" x="2564" y="1828" width="279" height="40"/><text class="t" x="2577" y="1852">assessment of maturation of the epithelium</text></g>
<g id="b-gen"><rect class="b" x="2564" y="1880" width="155" height="40"/><text class="t" x="2577" y="1904">altered genetic profile</text></g>
<g id="b-func"><rect class="b" x="2564" y="1931" width="120" height="40"/><text class="t" x="2577" y="1955">altered function</text></g>
<g id="b-macro"><rect class="b" x="2356" y="2062" width="160" height="40"/><text class="t" x="2369" y="2086">macroscopical features</text></g>
<g id="b-well"><rect class="b" x="2566" y="1984" width="123" height="40"/><text class="t" x="2579" y="2008">well circumcised</text></g>
<g id="b-encap"><rect class="b" x="2566" y="2036" width="139" height="40"/><text class="t" x="2579" y="2060">often encapsulated</text></g>
<g id="b-hem"><rect class="b" x="2566" y="2088" width="132" height="40"/><text class="t" x="2579" y="2112">rarely hemorrhage</text></g>
<g id="b-nec"><rect class="b" x="2566" y="2140" width="111" height="40"/><text class="t" x="2579" y="2164">rarely necrosis</text></g>
<g id="b-ex"><rect class="b" x="2356" y="2327" width="79" height="40"/><text class="t" x="2369" y="2351">examples</text></g>
<g id="b-epi"><rect class="b" x="2486" y="2269" width="143" height="40"/><text class="t" x="2499" y="2293">epithelial neoplasms</text></g>
<g id="b-sq"><rect class="b" x="2680" y="2192" width="217" height="40"/><text class="t" x="2693" y="2216">squamous epithelium (papilloma)</text></g>
<g id="b-skin"><rect class="b" x="2948" y="2192" width="49" height="40"/><text class="t" x="2961" y="2216">skin</text></g>
<g id="b-gl"><rect class="b" x="2680" y="2261" width="210" height="40"/><text class="t" x="2693" y="2285">glandular epithelium (adenoma)</text></g>
<g id="b-gl-l"><rect class="b" x="2942" y="2243" width="149" height="75"/><text class="t"><tspan x="2955" y="2267">1.</tspan><tspan x="2981">GIT</tspan><tspan x="2955" y="2283">2.</tspan><tspan x="2981">thyroid</tspan><tspan x="2955" y="2301">3.</tspan><tspan x="2981">ovary and breast</tspan></text></g>
<g id="b-tr"><rect class="b" x="2680" y="2328" width="227" height="59"/><text class="t"><tspan x="2693" y="2352">transitional epithelium (transitional</tspan><tspan x="2693" y="2368">/ urothelial papilloma)</tspan></text></g>
<g id="b-blad"><rect class="b" x="2957" y="2337" width="70" height="40"/><text class="t" x="2970" y="2361">bladder</text></g>
<g id="b-conn"><rect class="b" x="2486" y="2431" width="280" height="40"/><text class="t" x="2499" y="2455">connective tissue (mesenchymal) neoplams</text></g>
<g id="b-conn-l"><rect class="b" x="2817" y="2397" width="283" height="106"/><text class="t"><tspan x="2831" y="2421">1.</tspan><tspan x="2856">lipoma &gt; fat</tspan><tspan x="2831" y="2438">2.</tspan><tspan x="2856">neuroma &gt;  nerve</tspan><tspan x="2831" y="2454">3.</tspan><tspan x="2856">angioma &gt; vessel</tspan><tspan x="2831" y="2471">4.</tspan><tspan x="2856">chondroma &gt; cartilage</tspan><tspan x="2831" y="2486">5.</tspan><tspan x="2856">leiomyoma &gt; muscle (known as fibroid)</tspan></text></g>
<g id="b-clin"><rect class="b" x="2355" y="2650" width="143" height="40"/><text class="t" x="2368" y="2674">clinical presentation</text></g>
<g id="b-lump"><rect class="b" x="2548" y="2515" width="54" height="40"/><text class="t" x="2561" y="2539">lump</text></g>
<g id="b-bleed"><rect class="b" x="2548" y="2600" width="75" height="40"/><text class="t" x="2561" y="2624">bleeding</text></g>
<g id="b-bleed-l"><rect class="b" x="2674" y="2566" width="252" height="107"/><text class="t"><tspan x="2687" y="2590">1.</tspan><tspan x="2712">Haematemasis (Vomiting blood)</tspan><tspan x="2687" y="2606">2.</tspan><tspan x="2712">Haemoptysis (Coughing of blood)</tspan><tspan x="2687" y="2623">3.</tspan><tspan x="2712">Malaena (Black Stools)</tspan><tspan x="2687" y="2640">4.</tspan><tspan x="2712">Per vaginum</tspan><tspan x="2687" y="2656">5.</tspan><tspan x="2712">Fe Deficiency Anaemia</tspan></text></g>
<g id="b-mass"><rect class="b" x="2548" y="2709" width="94" height="40"/><text class="t" x="2561" y="2733">mass effect</text></g>
<g id="b-mass-l"><rect class="b" x="2693" y="2683" width="160" height="91"/><text class="t"><tspan x="2705" y="2707">1.</tspan><tspan x="2732">Cerebral Stroke</tspan><tspan x="2705" y="2723">2.</tspan><tspan x="2732">Git Obstruction</tspan><tspan x="2705" y="2741">3.</tspan><tspan x="2732">Prostatic Outflow</tspan><tspan x="2705" y="2757">4.</tspan><tspan x="2732">Obstruction</tspan></text></g>
<g id="b-pain"><rect class="b" x="2548" y="2784" width="50" height="40"/><text class="t" x="2561" y="2808">pain</text></g>
<g id="b-beh"><rect class="b" x="2355" y="2853" width="83" height="40"/><text class="t" x="2368" y="2877">behaviour</text></g>
<g id="b-beh-l"><rect class="b" x="2489" y="2836" width="444" height="74"/><text class="t"><tspan x="2502" y="2860">1.</tspan><tspan x="2528">benign neoplasms will grow but not metastasize</tspan><tspan x="2502" y="2876">2.</tspan><tspan x="2528">they may cause death if they are associated with severe blood loss</tspan><tspan x="2502" y="2893">3.</tspan><tspan x="2528">they will spread locally into adjacent tissues</tspan></text></g>
<g id="b-man"><rect class="b" x="2355" y="2930" width="102" height="40"/><text class="t" x="2368" y="2954">management</text></g>
<g id="b-man-l"><rect class="b" x="2508" y="2921" width="451" height="58"/><text class="t"><tspan x="2521" y="2945">1.</tspan><tspan x="2547">surgery is usually curative</tspan><tspan x="2521" y="2961">2.</tspan><tspan x="2547">they can kill the patient if there is an inoperable site such as the brain</tspan></text></g>
<g id="b-notes"><rect class="b" x="2355" y="3041" width="58" height="40"/><text class="t" x="2368" y="3065">notes</text></g>
<g id="b-hamart"><rect class="b" x="2463" y="2990" width="459" height="90"/><text class="t"><tspan x="2477" y="3015">hamartoma</tspan><tspan x="2477" y="3031">1.</tspan><tspan x="2503">excess of tissue which is normal to the site but haphazardly arranged</tspan><tspan x="2477" y="3047">2.</tspan><tspan x="2503">it is malformation rather than neoplasm</tspan><tspan x="2477" y="3063">3.</tspan><tspan x="2503">example &gt; capillary angioma</tspan></text></g>
<g id="b-lymph"><rect class="b" x="2463" y="3091" width="371" height="40"/><text class="t" x="2476" y="3115">there is no such thing called as benign lymphoid neoplasms</text></g>
</svg>
